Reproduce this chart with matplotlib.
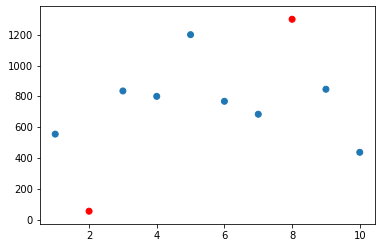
import matplotlib
matplotlib.use("Agg")
import matplotlib.pyplot as plt

x = [1, 2, 3, 4, 5, 6, 7, 8, 9, 10]
y = [555, 55, 835, 800, 1200, 768, 684, 1300, 846, 437]
colors = ['#1f77b4', 'red', '#1f77b4', '#1f77b4', '#1f77b4', '#1f77b4', '#1f77b4', 'red', '#1f77b4', '#1f77b4']

fig = plt.figure(figsize=(381/72, 248/72), dpi=72)
ax = fig.add_axes([40/381, 24/248, 335/381, 218/248])
ax.scatter(x, y, c=colors)
ax.set_xticks([2, 4, 6, 8, 10])
ax.set_yticks([0, 200, 400, 600, 800, 1000, 1200])
ax.set_ylim(-28, 1386)
fig.savefig("out.png", dpi=72)
